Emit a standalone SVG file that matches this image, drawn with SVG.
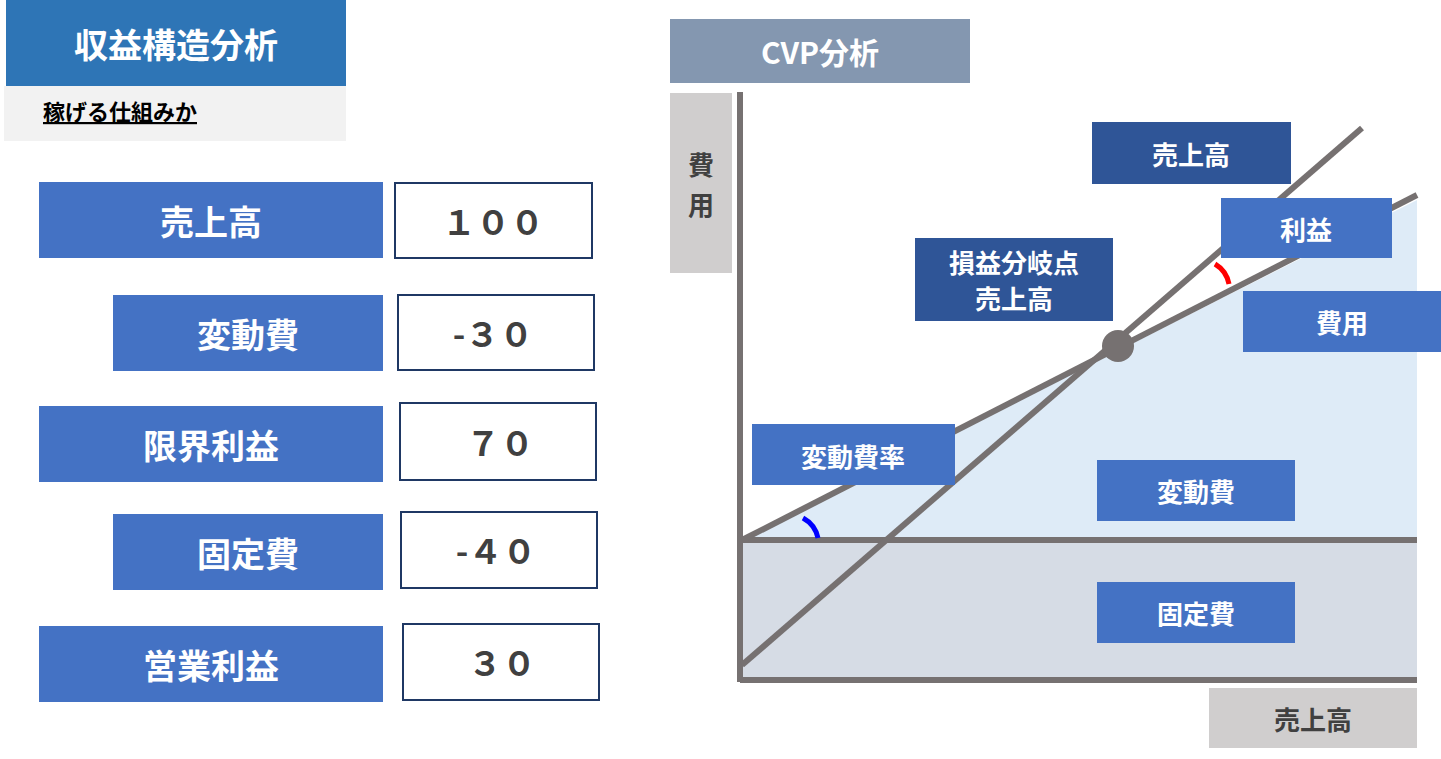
<svg xmlns="http://www.w3.org/2000/svg" width="1441" height="759" viewBox="0 0 1441 759">
<style>
text{font-family:"Noto Sans CJK JP","Liberation Sans",sans-serif;font-weight:bold;text-anchor:middle;dominant-baseline:central}
.b{fill:#4472c4}.d{fill:#2f5597}.w{fill:#fff;font-size:30px}.ws{fill:#fff;font-size:26px}
.v{fill:#fff;stroke:#1f3864;stroke-width:2}.vt{fill:#404040;font-size:34px}
.g{fill:#d0cece}.gt{fill:#404040;font-size:26px}
.ln{stroke:#767171;stroke-width:6;fill:none}
</style>
<rect width="1441" height="759" fill="#fff"/>
<g id="title"><rect x="6" y="0" width="340" height="86" fill="#2e75b6"/><text x="176" y="43" class="w" style="font-size:34px">収益構造分析</text></g>
<g id="subtitle"><rect x="4" y="86" width="342" height="55" fill="#f2f2f2"/><text x="120" y="110" style="font-size:22px;fill:#000;text-decoration:underline">稼げる仕組みか</text></g>
<g id="n1"><rect x="39" y="182" width="344" height="76" class="b"/><text x="211" y="220" class="w" style="font-size:34px">売上高</text><rect x="395" y="183" width="197" height="75" class="v"/><text x="493" y="220" class="vt">１００</text></g>
<g id="n2"><rect x="113" y="295" width="270" height="76" class="b"/><text x="248" y="333" class="w" style="font-size:34px">変動費</text><rect x="398" y="295" width="196" height="75" class="v"/><text x="493" y="332" class="vt">-３０</text></g>
<g id="n3"><rect x="39" y="406" width="344" height="76" class="b"/><text x="211" y="444" class="w" style="font-size:34px">限界利益</text><rect x="400" y="403" width="196" height="77" class="v"/><text x="500" y="441" class="vt">７０</text></g>
<g id="n4"><rect x="113" y="514" width="270" height="76" class="b"/><text x="248" y="552" class="w" style="font-size:34px">固定費</text><rect x="401" y="512" width="196" height="76" class="v"/><text x="496" y="549" class="vt">-４０</text></g>
<g id="n5"><rect x="39" y="626" width="344" height="76" class="b"/><text x="211" y="664" class="w" style="font-size:34px">営業利益</text><rect x="403" y="624" width="196" height="76" class="v"/><text x="502" y="661" class="vt">３０</text></g>
<g id="cvptitle"><rect x="670" y="19" width="300" height="64" fill="#8497b0"/><text x="820" y="51" class="w">CVP分析</text></g>
<g id="chart">
<polygon points="742,540 1417,200 1417,540" fill="#deebf7"/>
<rect x="742" y="540" width="675" height="140" fill="#d6dce5"/>
<rect x="670" y="93" width="62" height="180" class="g"/>
<text x="701" y="163" class="gt">費</text><text x="701" y="203" class="gt">用</text>
<rect x="1209" y="688" width="208" height="60" class="g"/><text x="1313" y="718" class="gt">売上高</text>
</g>
<g id="connectors">
<line x1="740" y1="92" x2="740" y2="682" class="ln"/>
<line x1="740" y1="680" x2="1417" y2="680" class="ln"/>
<line x1="742" y1="540" x2="1417" y2="540" class="ln"/>
<line x1="742" y1="540" x2="1417" y2="195" class="ln"/>
<line x1="742" y1="665" x2="1362" y2="128" class="ln"/>
<circle cx="1118" cy="346" r="16" fill="#767171"/>
<path d="M803,518 A30,30 0 0 1 818,538" stroke="#0000ff" stroke-width="5" fill="none"/>
<path d="M1215,264 A30,30 0 0 1 1229,284" stroke="#ff0000" stroke-width="5" fill="none"/>
</g>
<g id="l1"><rect x="1092" y="122" width="199" height="62" class="d"/><text x="1191" y="153" class="ws">売上高</text></g>
<g id="l2"><rect x="1221" y="198" width="171" height="60" class="b"/><text x="1306" y="228" class="ws">利益</text></g>
<g id="l3"><rect x="915" y="238" width="198" height="83" class="d"/><text x="1014" y="261" class="ws">損益分岐点</text><text x="1014" y="297" class="ws">売上高</text></g>
<g id="l4"><rect x="1243" y="291" width="198" height="61" class="b"/><text x="1342" y="321" class="ws">費用</text></g>
<g id="l5"><rect x="752" y="424" width="203" height="61" class="b"/><text x="853" y="455" class="ws">変動費率</text></g>
<g id="l6"><rect x="1097" y="460" width="198" height="61" class="b"/><text x="1196" y="490" class="ws">変動費</text></g>
<g id="l7"><rect x="1097" y="582" width="198" height="61" class="b"/><text x="1196" y="612" class="ws">固定費</text></g>
</svg>
